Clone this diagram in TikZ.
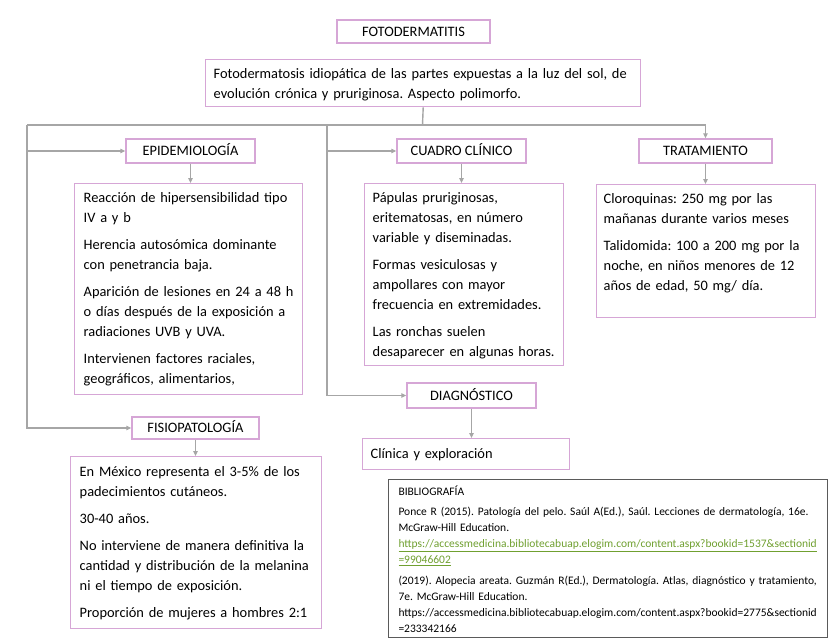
\documentclass[tikz,border=0pt]{standalone}
\usepackage{fontspec}
\setmainfont{Carlito}
\usetikzlibrary{arrows.meta}
\definecolor{boxpink}{RGB}{214,166,214}
\definecolor{conngray}{RGB}{166,166,166}
\definecolor{linkgreen}{RGB}{112,160,48}
\definecolor{bibgray}{RGB}{90,90,90}
\newcommand{\Ln}[1]{\mbox{#1}}
\tikzset{
  lbl/.style={draw=boxpink, line width=1.4pt, fill=white, inner sep=0pt,
    text height=11pt, text depth=1.6pt,
    font=\fontsize{14.4}{18}\selectfont\frenchspacing},
  cbox/.style={draw=boxpink, line width=1.4pt, fill=white, inner ysep=0pt,
    anchor=north west, align=left, font=\fontsize{14.4}{20}\selectfont\frenchspacing},
  conn/.style={draw=conngray, line width=1.4pt},
  arr/.style={conn, -{Triangle[length=5pt,width=4.5pt]}},
}
\begin{document}
\begin{tikzpicture}[x=1pt,y=-1pt]
\useasboundingbox (0,0) rectangle (829,640);

% labels
\node[lbl, minimum width=153pt, minimum height=23pt] (foto) at (413.5,31.5) {FOTODERMATITIS};
\node[lbl, minimum width=129pt, minimum height=24pt] (epi) at (190.5,151) {EPIDEMIOLOGÍA};
\node[lbl, minimum width=129pt, minimum height=24pt] (cua) at (461.5,151) {CUADRO CLÍNICO};
\node[lbl, minimum width=133pt, minimum height=24pt] (tra) at (705.5,151) {TRATAMIENTO};
\node[lbl, minimum width=129pt, minimum height=25pt] (dia) at (471.5,395.5) {DIAGNÓSTICO};
\node[lbl, minimum width=127pt, minimum height=22pt] (fis) at (195.5,428) {FISIOPATOLOGÍA};

% content boxes
\node[cbox, inner xsep=8pt, text width=419pt, text height=19pt, text depth=28pt] (def) at (205,59)
 {\Ln{Fotodermatosis idiopática de las partes expuestas a la luz del sol, de}\\
  \Ln{evolución crónica y pruriginosa. Aspecto polimorfo.}};

\node[cbox, inner xsep=9pt, text width=210pt, text height=19pt, text depth=192pt] (epibox) at (74,183)
 {\Ln{Reacción de hipersensibilidad tipo}\\
  \Ln{IV a y b}\\[7pt]
  \Ln{Herencia autosómica dominante}\\
  \Ln{con penetrancia baja.}\\[7pt]
  \Ln{Aparición de lesiones en 24 a 48 h}\\
  \Ln{o días después de la exposición a}\\
  \Ln{radiaciones UVB y UVA.}\\[7pt]
  \Ln{Intervienen factores raciales,}\\
  \Ln{geográficos, alimentarios,}};

\node[cbox, inner xsep=8pt, text width=183pt, text height=19pt, text depth=163pt] (cuabox) at (364,183)
 {\Ln{Pápulas pruriginosas,}\\
  \Ln{eritematosas, en número}\\
  \Ln{variable y diseminadas.}\\[7pt]
  \Ln{Formas vesiculosas y}\\
  \Ln{ampollares con mayor}\\
  \Ln{frecuencia en extremidades.}\\[7pt]
  \Ln{Las ronchas suelen}\\
  \Ln{desaparecer en algunas horas.}};

\node[cbox, inner xsep=7pt, text width=205pt, text height=19pt, text depth=114pt] (trabox) at (596,184)
 {\Ln{Cloroquinas: 250 mg por las}\\
  \Ln{mañanas durante varios meses}\\[7pt]
  \Ln{Talidomida: 100 a 200 mg por la}\\
  \Ln{noche, en niños menores de 12}\\
  \Ln{años de edad, 50 mg/ día.}};

\node[cbox, inner xsep=9pt, text width=233pt, text height=20pt, text depth=152pt] (fisbox) at (70,456)
 {\Ln{En México representa el 3-5\% de los}\\
  \Ln{padecimientos cutáneos.}\\[7pt]
  \Ln{30-40 años.}\\[7pt]
  \Ln{No interviene de manera definitiva la}\\
  \Ln{cantidad y distribución de la melanina}\\
  \Ln{ni el tiempo de exposición.}\\[7pt]
  \Ln{Proporción de mujeres a hombres 2:1}};

\node[cbox, inner xsep=8pt, text width=191pt, text height=20pt, text depth=11pt] (clibox) at (362,438)
 {Clínica y exploración};

\node[cbox, draw=bibgray, line width=1pt, inner xsep=10pt, text width=419pt, text height=16pt, text depth=142pt,
  font=\fontsize{11.5}{16}\selectfont\frenchspacing] (bib) at (388,479)
 {\Ln{BIBLIOGRAFÍA}\\[4pt]
  \Ln{Ponce R (2015). Patología del pelo. Saúl A(Ed.), Saúl. Lecciones de dermatología, 16e.}\\
  \Ln{McGraw-Hill Education.}\\
  \Ln{\color{linkgreen}\underline{https://accessmedicina.bibliotecabuap.elogim.com/content.aspx?bookid=1537\&sectionid}}\\
  \Ln{\color{linkgreen}\underline{=99046602}}\\[5pt]
  \Ln{(2019). Alopecia areata. Guzmán R(Ed.), Dermatología. Atlas, diagnóstico y tratamiento,}\\
  \Ln{7e. McGraw-Hill Education.}\\
  \Ln{https://accessmedicina.bibliotecabuap.elogim.com/content.aspx?bookid=2775\&sectionid}\\
  \Ln{=233342166}};

% connectors
\coordinate (top) at (422.5,125);
\coordinate (L) at (27,125);
\coordinate (M) at (327,125);
\draw[conn] (def.south) -- (top);
\draw[arr] (L) -| (tra.north);
\draw[arr] (L) |- (fis.west);
\draw[arr] (L |- epi.west) -- (epi.west);
\draw[arr] (M) |- (dia.west);
\draw[arr] (M |- cua.west) -- (cua.west);
\draw[arr] (epi.south) -- (epi.south |- epibox.north);
\draw[arr] (cua.south) -- (cua.south |- cuabox.north);
\draw[arr] (tra.south) -- (tra.south |- trabox.north);
\draw[arr] (dia.south) -- (dia.south |- clibox.north);
\draw[arr] (fis.south) -- (fis.south |- fisbox.north);
\end{tikzpicture}
\end{document}
